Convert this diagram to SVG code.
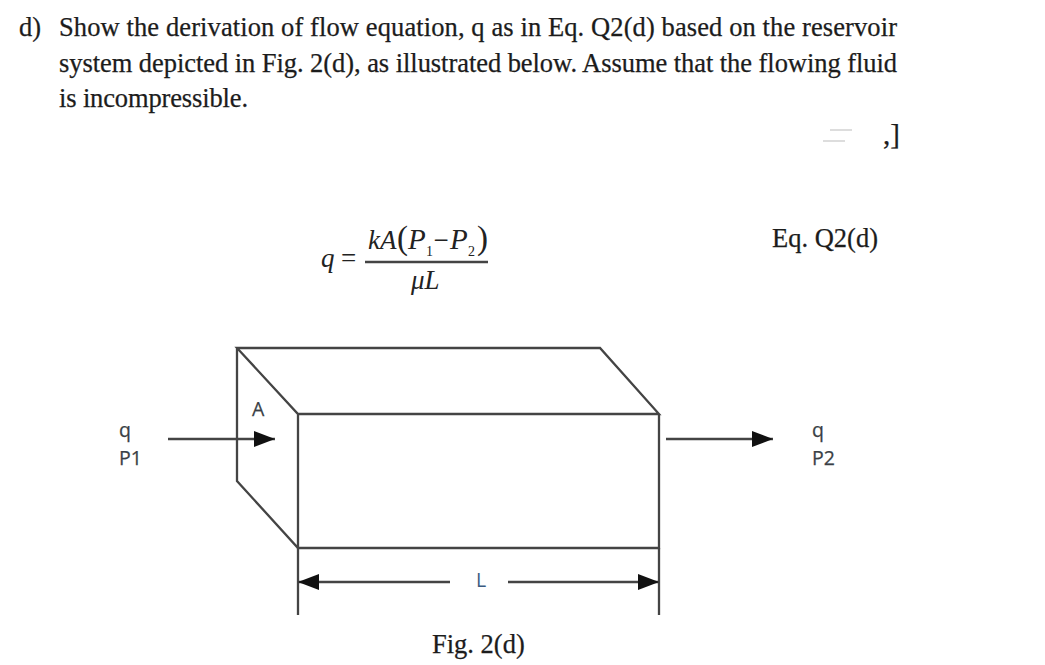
<svg xmlns="http://www.w3.org/2000/svg" width="1045" height="665" viewBox="0 0 1045 665">
<style>
.t{font-family:"Liberation Serif",serif;font-size:26.500px;fill:#1c1c1c;stroke:#1c1c1c;stroke-width:.25}
.s{font-family:"Open Sans","Noto Sans",sans-serif;font-size:19.500px;fill:#3a3f46;stroke:#3a3f46;stroke-width:.25}
.m{font-family:"Liberation Serif",serif;fill:#222;font-style:italic;font-size:27px}
.b{font-size:29px}
.n{font-style:normal}
.u{font-style:normal;font-size:14px}
.p{font-style:normal;font-size:33px;font-weight:300}
.l{stroke:#444;stroke-width:2.300;fill:none}
</style>
<defs><marker id="a" markerUnits="userSpaceOnUse" markerWidth="22" markerHeight="16" refX="21" refY="8" orient="auto-start-reverse"><path d="M0 0L21 8L0 16Z" fill="#111"/></marker></defs>
<rect width="1045" height="665" fill="#fff"/>
<g id="question">
<text class="t" x="19" y="36">d)</text>
<text class="t" x="59" y="36" textLength="838" lengthAdjust="spacing">Show the derivation of flow equation, q as in Eq. Q2(d) based on the reservoir</text>
<text class="t" x="59" y="72" textLength="838" lengthAdjust="spacing">system depicted in Fig. 2(d), as illustrated below. Assume that the flowing fluid</text>
<text class="t" x="59" y="107" textLength="189" lengthAdjust="spacing">is incompressible.</text>
<text class="t" x="883" y="144" style="font-size:29px">,]</text>
<path d="M823 141H845M830 130H852" stroke="#bbb" stroke-width="1" fill="none"/>
</g>
<g id="equation">
<text class="m" x="321" y="267">q</text><text class="m n" x="341" y="267">=</text>
<text class="m" x="368" y="249">kA</text><text class="m p" x="397" y="249">(</text>
<text class="m b" x="408" y="249">P</text><text class="m u" x="426" y="256">1</text>
<text class="m n" x="433.500" y="249">−</text>
<text class="m b" x="450" y="249">P</text><text class="m u" x="468" y="256">2</text>
<text class="m p" x="477" y="249">)</text>
<path d="M365 262H488" stroke="#444" stroke-width="2.300"/>
<text class="m" x="411" y="289">μL</text>
<text class="t" x="772" y="247">Eq. Q2(d)</text>
</g>
<g id="block">
<path class="l" d="M237 348H600L659 414H298ZM237 348V481L298 548H659V414M298 414V548"/>
<text class="s" x="252" y="416">A</text>
</g>
<g id="labels">
<text class="s" x="119" y="437">q</text><text class="s" x="119" y="465">P1</text>
<text class="s" x="812" y="437">q</text><text class="s" x="812" y="465">P2</text>
<text class="s" x="476" y="587" style="fill:#3a5a80;stroke:none">L</text>
<text class="t" x="432" y="653">Fig. 2(d)</text>
</g>
<g id="connectors">
<path class="l" d="M168 439H275" marker-end="url(#a)"/>
<path class="l" d="M666 439H773" marker-end="url(#a)"/>
<path class="l" d="M298 548V615M659 548V615"/>
<path class="l" d="M450 582H298" marker-end="url(#a)"/>
<path class="l" d="M508 582H659" marker-end="url(#a)"/>
</g>
</svg>
